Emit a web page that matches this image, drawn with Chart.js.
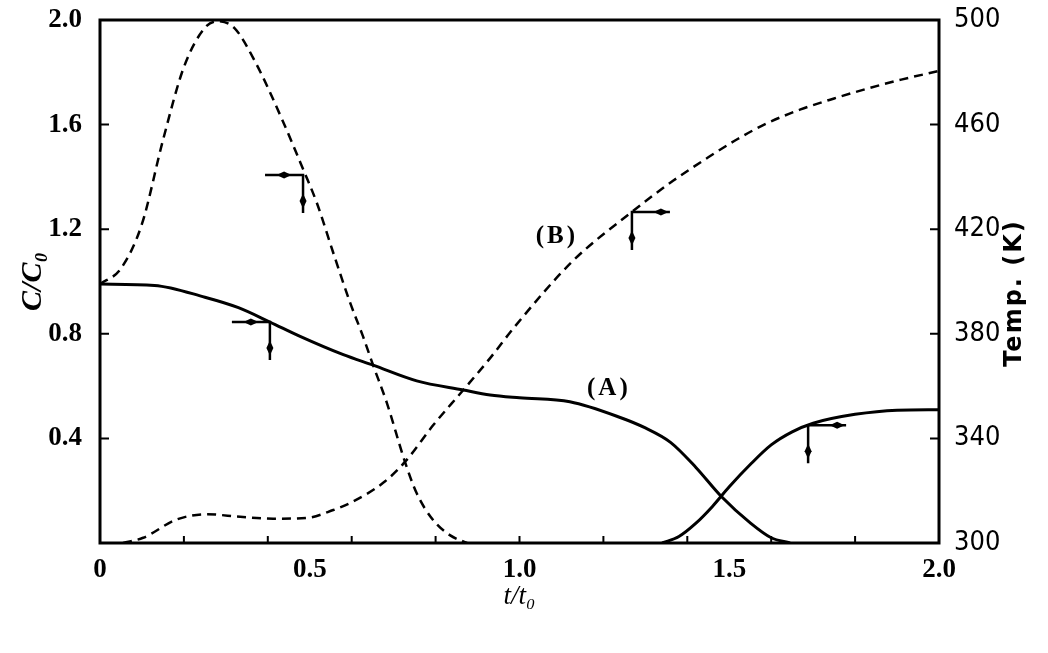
<!DOCTYPE html>
<html>
<head>
<meta charset="utf-8">
<script src="https://cdn.jsdelivr.net/npm/chart.js@4.4.1/dist/chart.umd.min.js"></script>
<style>
  html, body { margin: 0; padding: 0; background: #fff; }
  #wrap { width: 1048px; height: 653px; position: relative; }
</style>
</head>
<body>
<div id="wrap"><canvas id="chart"></canvas></div>
<script>
// curve (A): concentration, read on the left axis
const tConcA = [0, 0.13, 0.25, 0.33, 0.405, 0.477, 0.58, 0.651, 0.755, 0.866, 0.93, 1.0, 1.12, 1.24, 1.3, 1.36, 1.42, 1.48, 1.55, 1.6, 1.645];
const concA  = [0.99, 0.985, 0.94, 0.9, 0.845, 0.79, 0.72, 0.68, 0.62, 0.585, 0.566, 0.555, 0.54, 0.48, 0.44, 0.385, 0.29, 0.18, 0.077, 0.02, 0];

// curve (A): temperature, right axis
const tTempA = [1.34, 1.38, 1.42, 1.46, 1.5, 1.55, 1.6, 1.65, 1.7, 1.8, 1.9, 2.0];
const tempA  = [300, 302.5, 307.5, 314, 321.5, 330, 337.5, 342.5, 345.8, 349.2, 350.8, 351];

// curve (B): concentration, left axis
const tConcB = [0, 0.05, 0.1, 0.15, 0.2, 0.25, 0.28, 0.32, 0.37, 0.434, 0.484, 0.517, 0.556, 0.596, 0.627, 0.651, 0.684, 0.727, 0.755, 0.794, 0.834, 0.875];
const concB  = [0.99, 1.05, 1.22, 1.54, 1.82, 1.97, 1.995, 1.97, 1.84, 1.62, 1.43, 1.3, 1.11, 0.92, 0.79, 0.68, 0.535, 0.31, 0.19, 0.088, 0.03, 0];

// curve (B): temperature, right axis
const tTempB = [0.055, 0.103, 0.183, 0.255, 0.334, 0.413, 0.493, 0.556, 0.596, 0.675, 0.727, 0.794, 0.866, 0.93, 0.99, 1.128, 1.263, 1.366, 1.45, 1.52, 1.59, 1.67, 1.75, 1.83, 1.91, 2.0];
const tempB  = [300, 302, 309, 311, 310, 309.3, 309.6, 312.6, 315.3, 323, 331, 345, 358.5, 370.7, 383, 408, 426, 438.5, 447.5, 454.5, 460.5, 465.8, 470, 473.8, 477.2, 480.5];

// axes
const xTickVals = [0, 0.5, 1.0, 1.5, 2.0];
const xTickLabels = ['0', '0.5', '1.0', '1.5', '2.0'];
const xMinorTicks = [0.2, 0.4, 0.6, 0.8, 1.0, 1.2, 1.4, 1.6, 1.8];
const leftTickVals = [0, 0.4, 0.8, 1.2, 1.6, 2.0];
const leftTickLabels = ['', '0.4', '0.8', '1.2', '1.6', '2.0'];
const rightTickVals = [300, 340, 380, 420, 460, 500];
const rightTickLabels = ['300', '340', '380', '420', '460', '500'];

// axis pointers (t, value, axis, horizontal direction) and curve labels
const pointers = [
  { t: 0.484, v: 1.407, axis: 'y', dir: -1 },
  { t: 0.405, v: 0.845, axis: 'y', dir: -1 },
  { t: 1.268, v: 426.6, axis: 'y2', dir: 1 },
  { t: 1.688, v: 345, axis: 'y2', dir: 1 }
];
const curveLabels = [
  { text: '(A)', t: 1.213, v: 0.589 },
  { text: '(B)', t: 1.089, v: 1.17 }
];

const SERIF = '"Liberation Serif", "Times New Roman", serif';
const NARROW = '"Liberation Sans Narrow", "DejaVu Sans Condensed", sans-serif';

function pts(xs, ys) {
  return xs.map((x, i) => ({ x: x, y: ys[i] }));
}

function spindle(ctx, x, y, vertical, len, w) {
  ctx.beginPath();
  if (vertical) {
    ctx.moveTo(x, y - len / 2); ctx.lineTo(x + w, y); ctx.lineTo(x, y + len / 2); ctx.lineTo(x - w, y);
  } else {
    ctx.moveTo(x - len / 2, y); ctx.lineTo(x, y - w); ctx.lineTo(x + len / 2, y); ctx.lineTo(x, y + w);
  }
  ctx.closePath();
  ctx.fill();
}

// keep the plot box fixed, whatever the label sizes ask for
function noPad(s) {
  s.paddingTop = 0; s.paddingBottom = 0; s.paddingLeft = 0; s.paddingRight = 0;
}

const decor = {
  id: 'decor',
  afterDraw(chart) {
    const { ctx, chartArea: a, scales } = chart;
    const sx = scales.x, sl = scales.y, sr = scales.y2;
    ctx.save();
    ctx.strokeStyle = '#000';
    ctx.fillStyle = '#000';

    // frame
    ctx.lineWidth = 3;
    ctx.strokeRect(a.left, a.top, a.right - a.left, a.bottom - a.top);

    // inward tick marks
    ctx.lineWidth = 2;
    ctx.beginPath();
    xMinorTicks.forEach(v => {
      const p = sx.getPixelForValue(v);
      ctx.moveTo(p, a.bottom); ctx.lineTo(p, a.bottom - 7);
    });
    leftTickVals.slice(1, -1).forEach(v => {
      const p = sl.getPixelForValue(v);
      ctx.moveTo(a.left, p); ctx.lineTo(a.left + 9, p);
    });
    rightTickVals.slice(1, -1).forEach(v => {
      const p = sr.getPixelForValue(v);
      ctx.moveTo(a.right, p); ctx.lineTo(a.right - 9, p);
    });
    ctx.stroke();

    // axis pointers
    pointers.forEach(p => {
      const cx = sx.getPixelForValue(p.t);
      const cy = scales[p.axis].getPixelForValue(p.v);
      const hx = cx + p.dir * 38;
      ctx.lineWidth = 2.5;
      ctx.beginPath();
      ctx.moveTo(hx, cy); ctx.lineTo(cx, cy); ctx.lineTo(cx, cy + 38);
      ctx.stroke();
      const hm = p.dir < 0 ? (cx + hx) / 2 : cx + 29;
      spindle(ctx, hm, cy, false, 15, 3.5);
      spindle(ctx, cx, cy + 26, true, 15, 3.5);
    });

    // curve labels
    ctx.font = 'bold 25px ' + SERIF;
    ctx.textAlign = 'center';
    ctx.textBaseline = 'middle';
    ctx.letterSpacing = '3px';
    curveLabels.forEach(l => {
      ctx.fillText(l.text, sx.getPixelForValue(l.t), sl.getPixelForValue(l.v));
    });

    // right axis title, reading bottom to top
    ctx.font = 'bold 24px "DejaVu Sans", sans-serif';
    ctx.letterSpacing = '2px';
    ctx.translate(1015, 293);
    ctx.rotate(-Math.PI / 2);
    ctx.fillText('Temp. (K)', 0, 0);
    ctx.restore();
  }
};

new Chart(document.getElementById('chart').getContext('2d'), {
  type: 'line',
  data: {
    datasets: [
      { label: 'C/C0 (A)', data: pts(tConcA, concA), yAxisID: 'y', borderColor: '#000', borderWidth: 3, pointRadius: 0, cubicInterpolationMode: 'monotone', fill: false },
      { label: 'Temp (A)', data: pts(tTempA, tempA), yAxisID: 'y2', borderColor: '#000', borderWidth: 3, pointRadius: 0, cubicInterpolationMode: 'monotone', fill: false },
      { label: 'C/C0 (B)', data: pts(tConcB, concB), yAxisID: 'y', borderColor: '#000', borderWidth: 2.5, borderDash: [9, 6], pointRadius: 0, cubicInterpolationMode: 'monotone', fill: false },
      { label: 'Temp (B)', data: pts(tTempB, tempB), yAxisID: 'y2', borderColor: '#000', borderWidth: 2.5, borderDash: [9, 6], pointRadius: 0, cubicInterpolationMode: 'monotone', fill: false }
    ]
  },
  options: {
    responsive: true,
    maintainAspectRatio: false,
    animation: false,
    layout: { padding: { top: 20, left: 0, right: 0, bottom: 0 } },
    plugins: { legend: { display: false }, tooltip: { enabled: false } },
    scales: {
      x: {
        type: 'linear', min: 0, max: 2,
        grid: { display: false },
        border: { display: false },
        afterBuildTicks: s => { s.ticks = xTickVals.map(v => ({ value: v })); },
        afterFit: s => { s.height = 110; noPad(s); },
        ticks: {
          autoSkip: false, maxRotation: 0, padding: 3, color: '#000',
          font: { family: SERIF, size: 27, weight: 'bold' },
          callback: (v, i) => xTickLabels[i]
        },
        title: {
          display: true, text: 't/t\u2080', color: '#000',
          font: { family: SERIF, size: 27, style: 'italic' },
          padding: { top: 0, bottom: 40 }
        }
      },
      y: {
        type: 'linear', position: 'left', min: 0, max: 2,
        grid: { display: false },
        border: { display: false },
        afterBuildTicks: s => { s.ticks = leftTickVals.map(v => ({ value: v })); },
        afterFit: s => { s.width = 100; noPad(s); },
        ticks: {
          autoSkip: false, padding: 10, color: '#000',
          font: { family: SERIF, size: 27, weight: 'bold' },
          callback: (v, i) => leftTickLabels[i]
        },
        title: {
          display: true, text: 'C/C\u2080', color: '#000',
          font: { family: SERIF, size: 30, style: 'italic', weight: 'bold' },
          padding: { top: 15, bottom: 0 }
        }
      },
      y2: {
        type: 'linear', position: 'right', min: 300, max: 500,
        grid: { display: false },
        border: { display: false },
        afterBuildTicks: s => { s.ticks = rightTickVals.map(v => ({ value: v })); },
        afterFit: s => { s.width = 109; noPad(s); },
        ticks: {
          autoSkip: false, padding: 7, color: '#000',
          font: { family: NARROW, size: 27 },
          callback: (v, i) => rightTickLabels[i]
        }
      }
    }
  },
  plugins: [decor]
});
</script>
</body>
</html>
